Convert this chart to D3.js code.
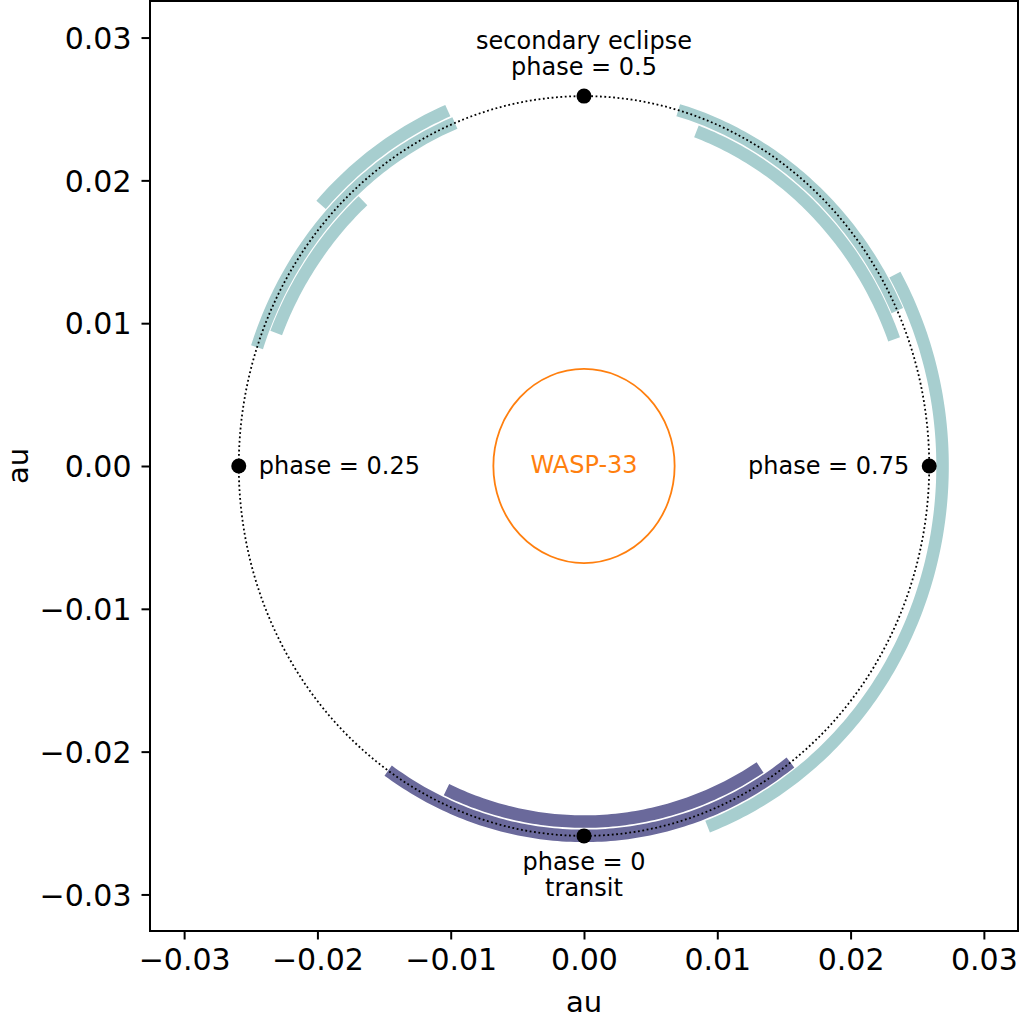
<!DOCTYPE html>
<html>
<head>
<meta charset="utf-8">
<script src="https://d3js.org/d3.v7.min.js"></script>
<style>
    body { margin: 0; background: #fff; }
    svg { display: block; font-family: "DejaVu Sans", sans-serif; }
</style>
</head>
<body>
<div id="chart"></div>
<script>
// orbit and star (au)
const ORBIT_RADIUS = 0.0259;
const STAR_RADIUS = 0.0068;
const STAR_NAME = "WASP-33";

// observed phase windows, one entry per arc
const arcStart  = [0.369, 0.302, 0.311, 0.544, 0.555, 0.667, -0.102, -0.089];
const arcEnd    = [0.438, 0.439, 0.384, 0.681, 0.692, 0.944, 0.096, 0.068];
const arcRadius = [0.0269, 0.0259, 0.0249, 0.0259, 0.0249, 0.0269, 0.0259, 0.0249];
const arcGroup  = ["emission", "emission", "emission", "emission", "emission", "emission", "transit", "transit"];

// labelled phase markers
const markerPhase = [0.5, 0.25, 0.75, 0];
const markerText  = [["secondary eclipse", "phase = 0.5"], ["phase = 0.25"], ["phase = 0.75"], ["phase = 0", "transit"]];

const ticks = [-0.03, -0.02, -0.01, 0.00, 0.01, 0.02, 0.03];

const W = 1020, H = 1018;
const LEFT = 150, RIGHT = 1018, TOP = 1, BOTTOM = 931;
const LIM = 0.03256;
const COLORS = { emission: "#a7cecf", transit: "#6a699b" };

const svg = d3.select("#chart").append("svg")
    .attr("width", W)
    .attr("height", H);

const x = d3.scaleLinear().domain([-LIM, LIM]).range([LEFT, RIGHT]);
const y = d3.scaleLinear().domain([-LIM, LIM]).range([BOTTOM, TOP]);

// phase -> position on a circle of radius r (phase 0 at bottom, 0.25 at left)
const pos = (phase, r) => [-r * Math.sin(2 * Math.PI * phase), -r * Math.cos(2 * Math.PI * phase)];

const line = d3.line()
    .x(d => x(d[0]))
    .y(d => y(d[1]));

const plot = svg.append("g");

// arcs
arcStart.forEach((s, i) => {
    const e = arcEnd[i];
    const n = Math.max(2, Math.ceil((e - s) / 0.002));
    const pts = d3.range(n + 1).map(k => pos(s + (e - s) * k / n, arcRadius[i]));
    plot.append("path")
        .datum(pts)
        .attr("fill", "none")
        .attr("stroke", COLORS[arcGroup[i]])
        .attr("stroke-width", 12.5)
        .attr("stroke-linecap", "butt")
        .attr("d", line);
});

// orbit
const orbitPts = d3.range(0, 361).map(k => pos(k / 360, ORBIT_RADIUS));
plot.append("path")
    .datum(orbitPts)
    .attr("fill", "none")
    .attr("stroke", "#000")
    .attr("stroke-width", 1.8)
    .attr("stroke-dasharray", "1.8,2.6")
    .attr("d", line);

// star
plot.append("ellipse")
    .attr("cx", x(0))
    .attr("cy", y(0))
    .attr("rx", x(STAR_RADIUS) - x(0))
    .attr("ry", y(0) - y(STAR_RADIUS))
    .attr("fill", "none")
    .attr("stroke", "#ff7f0e")
    .attr("stroke-width", 1.8);

plot.append("text")
    .attr("x", x(0))
    .attr("y", y(0) + 7)
    .attr("text-anchor", "middle")
    .attr("font-size", 24)
    .attr("fill", "#ff7f0e")
    .text(STAR_NAME);

// markers + labels
markerPhase.forEach((p, i) => {
    const [px, py] = pos(p, ORBIT_RADIUS);
    const cx = x(px), cy = y(py);
    plot.append("circle")
        .attr("cx", cx).attr("cy", cy).attr("r", 7.5)
        .attr("fill", "#000");

    const lines = markerText[i];
    const t = plot.append("text").attr("font-size", 24).attr("fill", "#000");
    if (p === 0.5) {
        t.attr("text-anchor", "middle");
        lines.forEach((l, j) => t.append("tspan")
            .attr("x", cx).attr("y", cy - 47 + j * 25.5).text(l));
    } else if (p === 0) {
        t.attr("text-anchor", "middle");
        lines.forEach((l, j) => t.append("tspan")
            .attr("x", cx).attr("y", cy + 34 + j * 26.5).text(l));
    } else if (p === 0.25) {
        t.attr("x", cx + 20).attr("y", cy + 8).attr("text-anchor", "start").text(lines[0]);
    } else {
        t.attr("x", cx - 20).attr("y", cy + 8).attr("text-anchor", "end").text(lines[0]);
    }
});

// axes
const fmt = d3.format(".2f");
const xAxis = svg.append("g")
    .attr("transform", `translate(0,${BOTTOM})`)
    .call(d3.axisBottom(x).tickValues(ticks).tickFormat(fmt).tickSize(8.5).tickPadding(8));
const yAxis = svg.append("g")
    .attr("transform", `translate(${LEFT},0)`)
    .call(d3.axisLeft(y).tickValues(ticks).tickFormat(fmt).tickSize(8.5).tickPadding(10));

[xAxis, yAxis].forEach(g => {
    g.select(".domain").remove();
    g.selectAll(".tick line").attr("stroke", "#000").attr("stroke-width", 2);
    g.selectAll(".tick text")
        .attr("font-size", 30)
        .attr("font-family", "DejaVu Sans")
        .attr("fill", "#000");
});
xAxis.selectAll(".tick text").attr("dy", "0.74em");
yAxis.selectAll(".tick text").attr("dy", "0.36em");

// frame
svg.append("rect")
    .attr("x", LEFT).attr("y", TOP)
    .attr("width", RIGHT - LEFT).attr("height", BOTTOM - TOP)
    .attr("fill", "none")
    .attr("stroke", "#000")
    .attr("stroke-width", 2);

// axis labels
svg.append("text")
    .attr("x", x(0))
    .attr("y", 1012)
    .attr("text-anchor", "middle")
    .attr("font-size", 29)
    .text("au");

svg.append("text")
    .attr("transform", `translate(28,${y(0)}) rotate(-90)`)
    .attr("text-anchor", "middle")
    .attr("font-size", 29)
    .text("au");
</script>
</body>
</html>
